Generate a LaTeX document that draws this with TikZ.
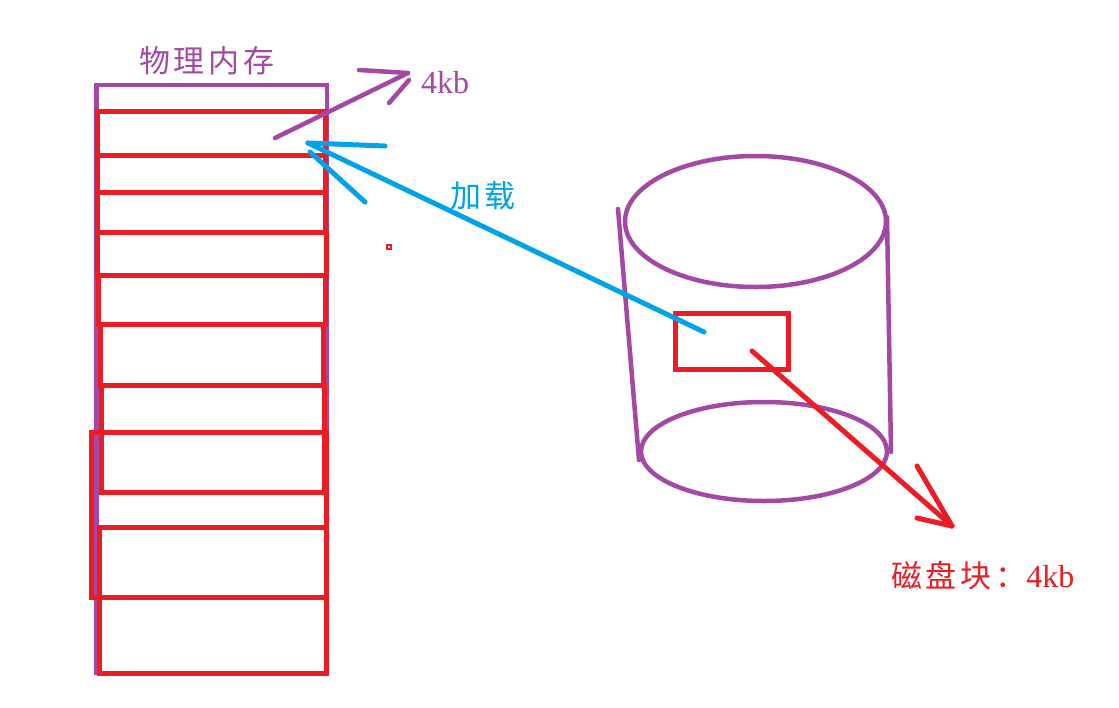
\documentclass[tikz,border=0pt]{standalone}
\usepackage{fontspec}
\newfontfamily\cjk[LetterSpace=12]{Noto Sans CJK SC}
\newfontfamily\serif{Liberation Serif}
\definecolor{ppurple}{HTML}{A349A4}
\definecolor{pred}{HTML}{ED1C24}
\definecolor{pblue}{HTML}{00A2E8}
\begin{document}
\begin{tikzpicture}[x=1pt,y=-1pt,
  purpleline/.style={draw=ppurple,line width=4.5pt,line cap=round,line join=round},
  purplebox/.style={draw=ppurple,line width=4.5pt},
  redline/.style={draw=pred,line width=5pt,line cap=round,line join=round},
  redbox/.style={draw=pred,line width=5pt},
  blueline/.style={draw=pblue,line width=5pt,line cap=round,line join=round},
  lbl/.style={inner sep=0pt,anchor=base west,font=\fontsize{31}{31}\selectfont},
  lat/.style={font=\fontsize{32}{32}\selectfont\serif}]
\useasboundingbox (0,0) rectangle (1119,707);
\fill[white] (0,0) rectangle (1119,707);

% physical memory column
\draw[purplebox] (96.5,85) rectangle (327,673);
\draw[redbox] (97.5,111) rectangle (325,155);
\draw[redbox] (97.5,155) rectangle (325,192);
\draw[redbox] (97.5,192) rectangle (325,232);
\draw[redbox] (97.5,232) rectangle (326,275);
\draw[redbox] (98,275) rectangle (325,324);
\draw[redbox] (100.5,324) rectangle (323,385);
\draw[redbox] (101,385) rectangle (324,492);
\draw[redbox] (91.5,432) rectangle (326,597);
\draw[redbox] (99,527) rectangle (326,597);
\draw[redbox] (99,597) rectangle (326,673);

% stray dot
\draw[pred,line width=1.5pt] (387,245) rectangle (391,249);

% disk cylinder
\draw[purplebox] (755.5,221.5) ellipse [x radius=130.5, y radius=65.5];
\draw[purplebox] (764,451.5) ellipse [x radius=123, y radius=49.5];
\coordinate (cl1) at (618,209);
\coordinate (cl2) at (639,460);
\coordinate (cr1) at (887,217);
\coordinate (cr2) at (891,452);
\draw[purpleline] (cl1) -- (cl2);
\draw[purpleline] (cr1) -- (cr2);

% disk block
\draw[redbox] (675,313) rectangle (788,369);

% labels
\node[lbl,text=ppurple] (memlabel) at (139,72) {\cjk 物理内存};
\node[lbl,lat,text=ppurple] (pagesize) at (421,93) {4kb};
\node[lbl,text=pblue] (loadlabel) at (450,207) {\cjk 加载};
\node[lbl,text=pred] (blocklabel) at (891,587) {\cjk 磁盘块：{\fontsize{32}{32}\selectfont\serif 4kb}};

% purple arrow (page -> 4kb)
\coordinate (pa1) at (275,138);
\coordinate (pa2) at (408,73);
\coordinate (pa3) at (359,70);
\coordinate (pa4) at (389,103);
\coordinate (pa5) at (409,80);
\draw[purpleline] (pa1) -- (pa2);
\draw[purpleline] (pa3) -- (pa2);
\draw[purpleline] (pa4) -- (pa5);

% blue arrow (load)
\coordinate (b1) at (704,332);
\coordinate (b2) at (308,143);
\coordinate (b3) at (385,146);
\coordinate (b4) at (310,152);
\coordinate (b5) at (365,202);
\draw[blueline] (b1) -- (b2);
\draw[blueline] (b2) -- (b3);
\draw[blueline] (b4) -- (b5);

% red arrow (disk block)
\coordinate (r1) at (752,351);
\coordinate (r2) at (952,526);
\coordinate (r3) at (917,466);
\coordinate (r4) at (917,518);
\draw[redline] (r1) -- (r2);
\draw[redline] (r3) -- (r2);
\draw[redline] (r4) -- (r2);
\end{tikzpicture}
\end{document}
